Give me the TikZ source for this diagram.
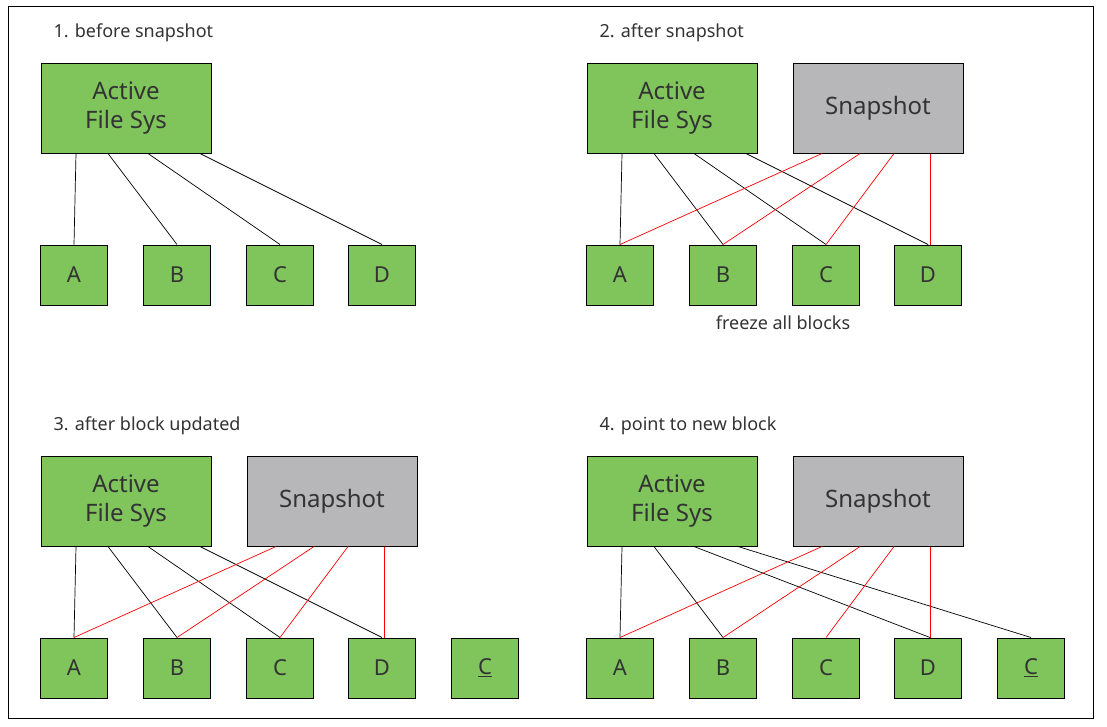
\documentclass[tikz,border=0pt]{standalone}
\usepackage{fontspec}
\setmainfont{Noto Sans}
\begin{document}
\begin{tikzpicture}[x=1pt,y=-1pt,
  g/.style={draw=black,fill=green!40!black!0,fill={rgb,255:red,127;green,197;blue,92},line width=1pt,inner sep=0pt,text=black!80,font=\fontsize{24}{29}\selectfont,align=center},
  big/.style={g,minimum width=170pt,minimum height=90pt},
  snap/.style={big,fill={rgb,255:red,183;green,183;blue,185}},
  blk/.style={g,minimum width=67pt,minimum height=60pt,font=\fontsize{22}{26}\selectfont},
  ttl/.style={anchor=west,text=black!80,font=\fontsize{18}{22}\selectfont},
  bl/.style={black,line width=0.7pt},
  rd/.style={red,line width=0.7pt}]
\useasboundingbox (0,0) rectangle (1107,726);
\draw[line width=0.8pt] (8,6) rectangle (1093,718);
% panel 1
\node[ttl] (t1) at (50,33) {1. before snapshot};
\node[big] (a1) at (126,108) {Active\\File Sys};
\foreach \n/\x in {A/74,B/177,C/280,D/382}{\node[blk] (p1\n) at (\x,275) {\n};}
\draw[bl] ([xshift=-50pt]a1.south) -- (p1A.north);
\draw[bl] ([xshift=-18pt]a1.south) -- (p1B.north);
\draw[bl] ([xshift=22pt]a1.south) -- (p1C.north);
\draw[bl] ([xshift=74pt]a1.south) -- (p1D.north);
% panel 2
\node[ttl] (t2) at (596,33) {2. after snapshot};
\node[big] (a2) at (672,108) {Active\\File Sys};
\node[snap] (s2) at (878,108) {Snapshot};
\foreach \n/\x in {A/620,B/723,C/826,D/928}{\node[blk] (p2\n) at (\x,275) {\n};}
\node[text=black!80,font=\fontsize{18}{22}\selectfont] (fr) at (783,323) {freeze all blocks};
\draw[bl] ([xshift=-50pt]a2.south) -- (p2A.north);
\draw[bl] ([xshift=-18pt]a2.south) -- (p2B.north);
\draw[bl] ([xshift=22pt]a2.south) -- (p2C.north);
\draw[bl] ([xshift=74pt]a2.south) -- (p2D.north);
\draw[rd] ([xshift=-56pt]s2.south) -- (p2A.north);
\draw[rd] ([xshift=-18pt]s2.south) -- (p2B.north);
\draw[rd] ([xshift=16pt]s2.south) -- (p2C.north);
\draw[rd] ([xshift=52pt]s2.south) -- ([xshift=2pt]p2D.north);
% panel 3
\node[ttl] (t3) at (50,426) {3. after block updated};
\node[big] (a3) at (126,501) {Active\\File Sys};
\node[snap] (s3) at (332,501) {Snapshot};
\foreach \n/\x in {A/74,B/177,C/280,D/382}{\node[blk] (p3\n) at (\x,668) {\n};}
\node[blk] (p3N) at (485,668) {\underline{C}};
\draw[bl] ([xshift=-50pt]a3.south) -- (p3A.north);
\draw[bl] ([xshift=-18pt]a3.south) -- (p3B.north);
\draw[bl] ([xshift=22pt]a3.south) -- (p3C.north);
\draw[bl] ([xshift=74pt]a3.south) -- (p3D.north);
\draw[rd] ([xshift=-56pt]s3.south) -- (p3A.north);
\draw[rd] ([xshift=-18pt]s3.south) -- (p3B.north);
\draw[rd] ([xshift=16pt]s3.south) -- (p3C.north);
\draw[rd] ([xshift=52pt]s3.south) -- ([xshift=2pt]p3D.north);
% panel 4
\node[ttl] (t4) at (596,426) {4. point to new block};
\node[big] (a4) at (672,501) {Active\\File Sys};
\node[snap] (s4) at (878,501) {Snapshot};
\foreach \n/\x in {A/620,B/723,C/826,D/928}{\node[blk] (p4\n) at (\x,668) {\n};}
\node[blk] (p4N) at (1031,668) {\underline{C}};
\draw[bl] ([xshift=-50pt]a4.south) -- (p4A.north);
\draw[bl] ([xshift=-18pt]a4.south) -- (p4B.north);
\draw[bl] ([xshift=22pt]a4.south) -- ([xshift=2pt]p4D.north);
\draw[bl] ([xshift=66pt]a4.south) -- (p4N.north);
\draw[rd] ([xshift=-56pt]s4.south) -- (p4A.north);
\draw[rd] ([xshift=-18pt]s4.south) -- (p4B.north);
\draw[rd] ([xshift=16pt]s4.south) -- (p4C.north);
\draw[rd] ([xshift=52pt]s4.south) -- ([xshift=2pt]p4D.north);
\end{tikzpicture}
\end{document}
